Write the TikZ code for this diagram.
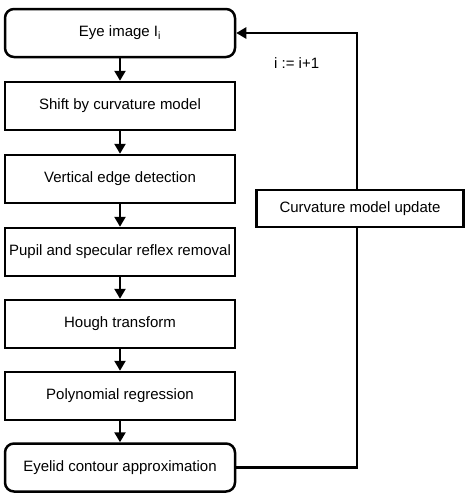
\documentclass[tikz,border=0pt]{standalone}
\usepackage{fontspec}
\setmainfont{Liberation Sans}
\usepackage{tikz}
\usetikzlibrary{arrows.meta}
\tikzset{
  stepbox/.style={rectangle, draw=black, fill=white, line width=2.5pt, align=center, font=\fontsize{15}{17}\selectfont, minimum width=230pt, minimum height=48pt, inner sep=2pt},
  endbox/.style={stepbox, rounded corners=9pt},
  flowarrow/.style={-{Triangle[length=10pt,width=11pt]}, line width=2.5pt, draw=black},
  flowline/.style={line width=2.5pt, draw=black},
}

\begin{document}
\begin{tikzpicture}[x=1pt,y=-1pt]
      \useasboundingbox (0,0) rectangle (474,498);

      \node[endbox] (eye) at (120,33) {Eye image I\textsubscript{i}};
      \node[stepbox] (shift) at (120,106) {Shift by curvature model};
      \node[stepbox] (edge) at (120,179) {Vertical edge detection};
      \node[stepbox] (pupil) at (120,252) {Pupil and specular reflex removal};
      \node[stepbox] (hough) at (120,324) {Hough transform};
      \node[stepbox] (poly) at (120,396) {Polynomial regression};
      \node[endbox] (eyelid) at (120,467.5) {Eyelid contour approximation};

      \node[stepbox, minimum width=207pt, minimum height=37pt] (upd) at (360,208.5) {Curvature model update};

      \coordinate (loop) at (357,0);

      \draw[flowarrow] (eye) -- (shift);
      \draw[flowarrow] (shift) -- (edge);
      \draw[flowarrow] (edge) -- (pupil);
      \draw[flowarrow] (pupil) -- (hough);
      \draw[flowarrow] (hough) -- (poly);
      \draw[flowarrow] (poly) -- (eyelid);

      \draw[flowline] (eyelid.east) -| (loop |- upd.south);
      \draw[flowarrow] (loop |- upd.north) |- node[pos=0.75, below=20pt, font=\fontsize{15}{17}\selectfont]{i := i+1} (eye.east);
    \end{tikzpicture}
\end{document}
